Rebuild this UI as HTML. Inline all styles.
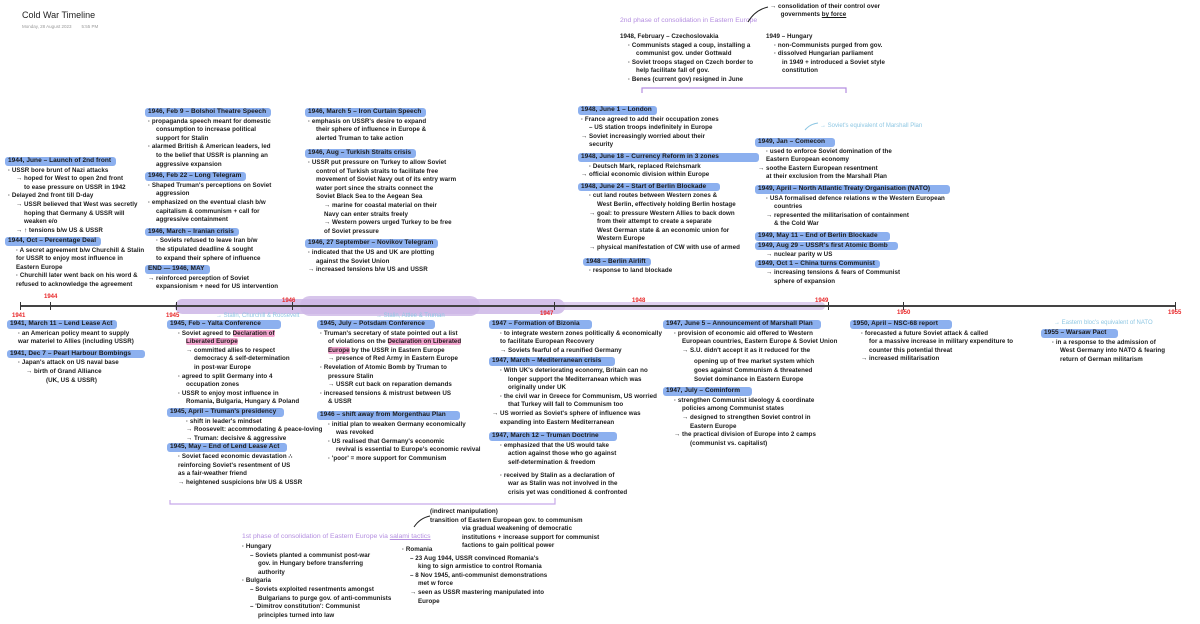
<!DOCTYPE html>
<html><head><meta charset="utf-8">
<style>
*{margin:0;padding:0;box-sizing:border-box}
body{width:1200px;height:624px;background:#fff;position:relative;overflow:hidden;font-family:"Liberation Sans",sans-serif;color:#1a1a1a}
.b{position:absolute;font-size:6.2px;line-height:8.6px;font-weight:bold;letter-spacing:.05px;white-space:nowrap}
.h{display:block;width:fit-content;background:#8cb0ef;padding:0 5px 0 3px;border-radius:3px;margin:2px 0 1px -3px;font-size:6.5px}
.pk{background:#f3a6cf;border-radius:2px}
.i{padding-left:8px}
.ii{padding-left:16px}
.y{position:absolute;color:#e8282a;font-size:6px;font-weight:bold}
.tk{position:absolute;width:1px;height:8px;background:#333;top:302px}
.cy{position:absolute;color:#8ec7e3;font-size:6px;white-space:nowrap}
.pu{position:absolute;color:#b48ee0;font-size:6.8px;white-space:nowrap}
</style></head><body>
<div style="position:absolute;left:22px;top:10px;font-size:9px;color:#222">Cold War Timeline</div>
<div style="position:absolute;left:22px;top:24px;font-size:4.5px;color:#999">Monday, 28 August 2023 &nbsp;&nbsp;&nbsp;&nbsp;&nbsp;&nbsp; 5:55 PM</div>

<!-- axis -->
<div style="position:absolute;left:175px;top:299px;width:390px;height:15px;background:#cdb6e6;border-radius:8px;opacity:.85"></div>
<div style="position:absolute;left:300px;top:296px;width:180px;height:20px;background:#cdb6e6;border-radius:10px;opacity:.8"></div>
<div style="position:absolute;left:560px;top:302px;width:265px;height:8px;background:#d6c3ea;border-radius:4px;opacity:.8"></div>
<div style="position:absolute;left:20px;top:305px;width:1156px;height:1.5px;background:#444"></div>
<div class="tk" style="left:20px"></div><div class="tk" style="left:50px"></div><div class="tk" style="left:176px"></div><div class="tk" style="left:292px"></div><div class="tk" style="left:554px"></div><div class="tk" style="left:828px"></div><div class="tk" style="left:903px"></div><div class="tk" style="left:1175px"></div>
<div class="y" style="left:44px;top:294px">1944</div>
<div class="y" style="left:12px;top:313px">1941</div>
<div class="y" style="left:166px;top:313px">1945</div>
<div class="y" style="left:282px;top:298px">1946</div>
<div class="y" style="left:540px;top:311px">1947</div>
<div class="y" style="left:632px;top:298px">1948</div>
<div class="y" style="left:815px;top:298px">1949</div>
<div class="y" style="left:897px;top:310px">1950</div>
<div class="y" style="left:1168px;top:310px">1955</div>

<!-- 1944 -->
<div class="b" style="left:8px;top:155px">
<div class="h">1944, June – Launch of 2nd front</div>
<div>· USSR bore brunt of Nazi attacks</div>
<div class="i">→ hoped for West to open 2nd front</div>
<div class="ii">to ease pressure on USSR in 1942</div>
<div>· Delayed 2nd front till D-day</div>
<div class="i">→ USSR believed that West was secretly</div>
<div class="ii">hoping that Germany &amp; USSR will</div>
<div class="ii">weaken e/o</div>
<div class="i">→ ↑ tensions b/w US &amp; USSR</div>
</div>
<div class="b" style="left:8px;top:235px">
<div class="h">1944, Oct – Percentage Deal</div>
<div class="i">· A secret agreement b/w Churchill &amp; Stalin</div>
<div class="i">for USSR to enjoy most influence in</div>
<div class="i">Eastern Europe</div>
<div class="i">· Churchill later went back on his word &amp;</div>
<div class="i">refused to acknowledge the agreement</div>
</div>

<!-- 1946 col -->
<div class="b" style="left:148px;top:106px">
<div class="h">1946, Feb 9 – Bolshoi Theatre Speech</div>
<div>· propaganda speech meant for domestic</div>
<div class="i">consumption to increase political</div>
<div class="i">support for Stalin</div>
<div>· alarmed British &amp; American leaders, led</div>
<div class="i">to the belief that USSR is planning an</div>
<div class="i">aggressive expansion</div>
<div class="h" style="margin-top:3px">1946, Feb 22 – Long Telegram</div>
<div>· Shaped Truman's perceptions on Soviet</div>
<div class="i">aggression</div>
<div>· emphasized on the eventual clash b/w</div>
<div class="i">capitalism &amp; communism + call for</div>
<div class="i">aggressive containment</div>
<div class="h" style="margin-top:3px">1946, March – Iranian crisis</div>
<div class="i">· Soviets refused to leave Iran b/w</div>
<div class="i">the stipulated deadline &amp; sought</div>
<div class="i">to expand their sphere of influence</div>
<div class="h">END — 1946, MAY</div>
<div>→ reinforced perception of Soviet</div>
<div class="i">expansionism + need for US intervention</div>
</div>

<div class="b" style="left:308px;top:106px">
<div class="h">1946, March 5 – Iron Curtain Speech</div>
<div>· emphasis on USSR's desire to expand</div>
<div class="i">their sphere of influence in Europe &amp;</div>
<div class="i">alerted Truman to take action</div>
<div class="h" style="margin-top:6px">1946, Aug – Turkish Straits crisis</div>
<div>· USSR put pressure on Turkey to allow Soviet</div>
<div class="i">control of Turkish straits to facilitate free</div>
<div class="i">movement of Soviet Navy out of its entry warm</div>
<div class="i">water port since the straits connect the</div>
<div class="i">Soviet Black Sea to the Aegean Sea</div>
<div class="ii">→ marine for coastal material on their</div>
<div class="ii">Navy can enter straits freely</div>
<div class="ii">→ Western powers urged Turkey to be free</div>
<div class="ii">of Soviet pressure</div>
<div class="h" style="margin-top:3px">1946, 27 September – Novikov Telegram</div>
<div>· indicated that the US and UK are plotting</div>
<div class="i">against the Soviet Union</div>
<div>→ increased tensions b/w US and USSR</div>
</div>

<!-- top 2nd phase -->
<div class="pu" style="left:620px;top:17px">2nd phase of consolidation in Eastern Europe</div>
<svg style="position:absolute;left:0;top:0" width="1200" height="624">
<path d="M748 22 Q755 10 768 7" stroke="#222" fill="none" stroke-width="1"/>
<path d="M642 93 L642 88 L846 88 L846 93" stroke="#b48ee0" fill="none" stroke-width="1.2"/>
<path d="M170 500 L170 504 L555 504 L555 498" stroke="#c7a9ea" fill="none" stroke-width="1.2"/>
<path d="M414 527 Q420 518 430 516" stroke="#222" fill="none" stroke-width="1"/>
<path d="M805 130 Q810 124 818 123" stroke="#8ec7e3" fill="none" stroke-width="1"/>
</svg>
<div class="b" style="left:770px;top:3px;line-height:8px">→ consolidation of their control over<br>&nbsp;&nbsp;&nbsp;&nbsp;&nbsp;&nbsp;governments <u>by force</u></div>
<div class="b" style="left:620px;top:33px">
<div>1948, February – Czechoslovakia</div>
<div class="i">· Communists staged a coup, installing a</div>
<div class="ii">communist gov. under Gottwald</div>
<div class="i">· Soviet troops staged on Czech border to</div>
<div class="ii">help facilitate fall of gov.</div>
<div class="i">· Benes (current gov) resigned in June</div>
</div>
<div class="b" style="left:766px;top:33px">
<div>1949 – Hungary</div>
<div class="i">· non-Communists purged from gov.</div>
<div class="i">· dissolved Hungarian parliament</div>
<div class="ii">in 1949 + introduced a Soviet style</div>
<div class="ii">constitution</div>
</div>

<!-- 1948 col -->
<div class="b" style="left:581px;top:104px">
<div class="h">1948, June 1 – London</div>
<div>· France agreed to add their occupation zones</div>
<div class="i">– US station troops indefinitely in Europe</div>
<div>→ Soviet increasingly worried about their</div>
<div class="i">security</div>
<div class="h" style="margin-top:3px;padding-right:40px">1948, June 18 – Currency Reform in 3 zones</div>
<div class="i">· Deutsch Mark, replaced Reichsmark</div>
<div>→ official economic division within Europe</div>
<div class="h" style="margin-top:3px;padding-right:14px">1948, June 24 – Start of Berlin Blockade</div>
<div class="i">· cut land routes between Western zones &amp;</div>
<div class="ii">West Berlin, effectively holding Berlin hostage</div>
<div class="i">→ goal: to pressure Western Allies to back down</div>
<div class="ii">from their attempt to create a separate</div>
<div class="ii">West German state &amp; an economic union for</div>
<div class="ii">Western Europe</div>
<div class="i">→ physical manifestation of CW with use of armed</div>
<div class="h" style="margin-top:5px;margin-left:2px">1948 – Berlin Airlift</div>
<div class="i">· response to land blockade</div>
</div>

<!-- 1949 col -->
<div class="cy" style="left:820px;top:123px">→ Soviet's equivalent of Marshall Plan</div>
<div class="b" style="left:758px;top:136px">
<div class="h" style="padding-right:10px">1949, Jan – Comecon</div>
<div class="i">· used to enforce Soviet domination of the</div>
<div class="i">Eastern European economy</div>
<div>→ soothe Eastern European resentment</div>
<div class="i">at their exclusion from the Marshall Plan</div>
<div class="h" style="margin-top:3px;padding-right:20px">1949, April – North Atlantic Treaty Organisation (NATO)</div>
<div class="i">· USA formalised defence relations w the Western European</div>
<div class="ii">countries</div>
<div class="i">→ represented the militarisation of containment</div>
<div class="ii">&amp; the Cold War</div>
<div class="h" style="margin-top:3px;padding-right:12px">1949, May 11 – End of Berlin Blockade</div>
<div class="h" style="margin-top:0;padding-right:10px">1949, Aug 29 – USSR's first Atomic Bomb</div>
<div class="i">→ nuclear parity w US</div>
<div class="h" style="margin-top:0">1949, Oct 1 – China turns Communist</div>
<div class="i">→ increasing tensions &amp; fears of Communist</div>
<div class="ii">sphere of expansion</div>
</div>

<!-- below axis -->
<div class="b" style="left:10px;top:318px">
<div class="h">1941, March 11 – Lend Lease Act</div>
<div class="i">· an American policy meant to supply</div>
<div class="i">war materiel to Allies (including USSR)</div>
<div class="h" style="margin-top:3px;padding-right:14px">1941, Dec 7 – Pearl Harbour Bombings</div>
<div class="i">· Japan's attack on US naval base</div>
<div class="ii">→ birth of Grand Alliance</div>
<div class="ii" style="padding-left:36px">(UK, US &amp; USSR)</div>
</div>

<div class="cy" style="left:216px;top:313px">→ Stalin, Churchill &amp; Roosevelt</div>
<div class="b" style="left:170px;top:318px">
<div class="h" style="padding-right:20px">1945, Feb – Yalta Conference</div>
<div class="i">· Soviet agreed to <span class="pk">Declaration of</span></div>
<div class="ii"><span class="pk">Liberated Europe</span></div>
<div class="ii">→ committed allies to respect</div>
<div class="ii" style="padding-left:24px">democracy &amp; self-determination</div>
<div class="ii" style="padding-left:24px">in post-war Europe</div>
<div class="i">· agreed to split Germany into 4</div>
<div class="ii">occupation zones</div>
<div class="i">· USSR to enjoy most influence in</div>
<div class="ii">Romania, Bulgaria, Hungary &amp; Poland</div>
<div class="h" style="margin-top:1px;padding-right:8px">1945, April – Truman's presidency</div>
<div class="ii">· shift in leader's mindset</div>
<div class="ii">→ Roosevelt: accommodating &amp; peace-loving</div>
<div class="ii">→ Truman: decisive &amp; aggressive</div>
<div class="h" style="margin-top:0;padding-right:8px">1945, May – End of Lend Lease Act</div>
<div class="i">· Soviet faced economic devastation ∴</div>
<div class="i">reinforcing Soviet's resentment of US</div>
<div class="i">as a fair-weather friend</div>
<div class="i">→ heightened suspicions b/w US &amp; USSR</div>
</div>

<div class="cy" style="left:376px;top:313px">→ Stalin, Attlee &amp; Truman</div>
<div class="b" style="left:320px;top:318px">
<div class="h" style="padding-right:10px">1945, July – Potsdam Conference</div>
<div>· Truman's secretary of state pointed out a list</div>
<div class="i">of violations on the <span class="pk">Declaration on Liberated</span></div>
<div class="i"><span class="pk">Europe</span> by the USSR in Eastern Europe</div>
<div class="i">→ presence of Red Army in Eastern Europe</div>
<div>· Revelation of Atomic Bomb by Truman to</div>
<div class="i">pressure Stalin</div>
<div class="i">→ USSR cut back on reparation demands</div>
<div>· increased tensions &amp; mistrust between US</div>
<div class="i">&amp; USSR</div>
<div class="h" style="margin-top:4px;padding-right:14px">1946 – shift away from Morgenthau Plan</div>
<div class="i">· initial plan to weaken Germany economically</div>
<div class="ii">was revoked</div>
<div class="i">· US realised that Germany's economic</div>
<div class="ii">revival is essential to Europe's economic revival</div>
<div class="i">· 'poor' = more support for Communism</div>
</div>

<div class="b" style="left:492px;top:318px">
<div class="h" style="padding-right:12px">1947 – Formation of Bizonia</div>
<div class="i">· to integrate western zones politically &amp; economically</div>
<div class="i">to facilitate European Recovery</div>
<div class="i">→ Soviets fearful of a reunified Germany</div>
<div class="h" style="margin-top:2px;padding-right:14px">1947, March – Mediterranean crisis</div>
<div class="i">· With UK's deteriorating economy, Britain can no</div>
<div class="ii">longer support the Mediterranean which was</div>
<div class="ii">originally under UK</div>
<div class="i">· the civil war in Greece for Communism, US worried</div>
<div class="ii">that Turkey will fall to Communism too</div>
<div>→ US worried as Soviet's sphere of influence was</div>
<div class="i">expanding into Eastern Mediterranean</div>
<div class="h" style="margin-top:5px;padding-right:18px">1947, March 12 – Truman Doctrine</div>
<div class="i">· emphasized that the US would take</div>
<div class="ii">action against those who go against</div>
<div class="ii">self-determination &amp; freedom</div>
<div class="i" style="margin-top:4px">· received by Stalin as a declaration of</div>
<div class="ii">war as Stalin was not involved in the</div>
<div class="ii">crisis yet was conditioned &amp; confronted</div>
</div>

<div class="b" style="left:666px;top:318px">
<div class="h" style="padding-right:8px">1947, June 5 – Announcement of Marshall Plan</div>
<div class="i">· provision of economic aid offered to Western</div>
<div class="ii">European countries, Eastern Europe &amp; Soviet Union</div>
<div class="ii">→ S.U. didn't accept it as it reduced for the</div>
<div class="ii" style="padding-left:28px;margin-top:3px">opening up of free market system which</div>
<div class="ii" style="padding-left:28px">goes against Communism &amp; threatened</div>
<div class="ii" style="padding-left:28px">Soviet dominance in Eastern Europe</div>
<div class="h" style="margin-top:3px;padding-right:12px">1947, July – Cominform</div>
<div class="i">· strengthen Communist ideology &amp; coordinate</div>
<div class="ii">policies among Communist states</div>
<div class="ii">→ designed to strengthen Soviet control in</div>
<div class="ii" style="padding-left:24px">Eastern Europe</div>
<div class="i">→ the practical division of Europe into 2 camps</div>
<div class="ii" style="padding-left:24px">(communist vs. capitalist)</div>
</div>

<div class="b" style="left:853px;top:318px">
<div class="h" style="padding-right:14px">1950, April – NSC-68 report</div>
<div class="i">· forecasted a future Soviet attack &amp; called</div>
<div class="ii">for a massive increase in military expenditure to</div>
<div class="ii">counter this potential threat</div>
<div class="i">→ increased militarisation</div>
</div>

<div class="cy" style="left:1054px;top:320px">→ Eastern bloc's equivalent of NATO</div>
<div class="b" style="left:1044px;top:327px">
<div class="h" style="padding-right:12px">1955 – Warsaw Pact</div>
<div class="i">· in a response to the admission of</div>
<div class="ii">West Germany into NATO &amp; fearing</div>
<div class="ii">return of German militarism</div>
</div>

<!-- bottom 1st phase -->
<div class="pu" style="left:242px;top:533px">1st phase of consolidation of Eastern Europe via <u>salami tactics</u></div>
<div class="b" style="left:430px;top:508px;line-height:8.5px">
<div>(indirect manipulation)</div>
<div>transition of Eastern European gov. to communism</div>
<div style="padding-left:32px">via gradual weakening of democratic</div>
<div style="padding-left:32px">institutions + increase support for communist</div>
<div style="padding-left:32px">factions to gain political power</div>
</div>
<div class="b" style="left:242px;top:543px">
<div>· Hungary</div>
<div class="i">– Soviets planted a communist post-war</div>
<div class="ii">gov. in Hungary before transferring</div>
<div class="ii">authority</div>
<div>· Bulgaria</div>
<div class="i">– Soviets exploited resentments amongst</div>
<div class="ii">Bulgarians to purge gov. of anti-communists</div>
<div class="i">– 'Dimitrov constitution': Communist</div>
<div class="ii">principles turned into law</div>
</div>
<div class="b" style="left:402px;top:546px">
<div>· Romania</div>
<div class="i">– 23 Aug 1944, USSR convinced Romania's</div>
<div class="ii">king to sign armistice to control Romania</div>
<div class="i">– 8 Nov 1945, anti-communist demonstrations</div>
<div class="ii">met w force</div>
<div class="i">→ seen as USSR mastering manipulated into</div>
<div class="ii">Europe</div>
</div>
</body></html>
